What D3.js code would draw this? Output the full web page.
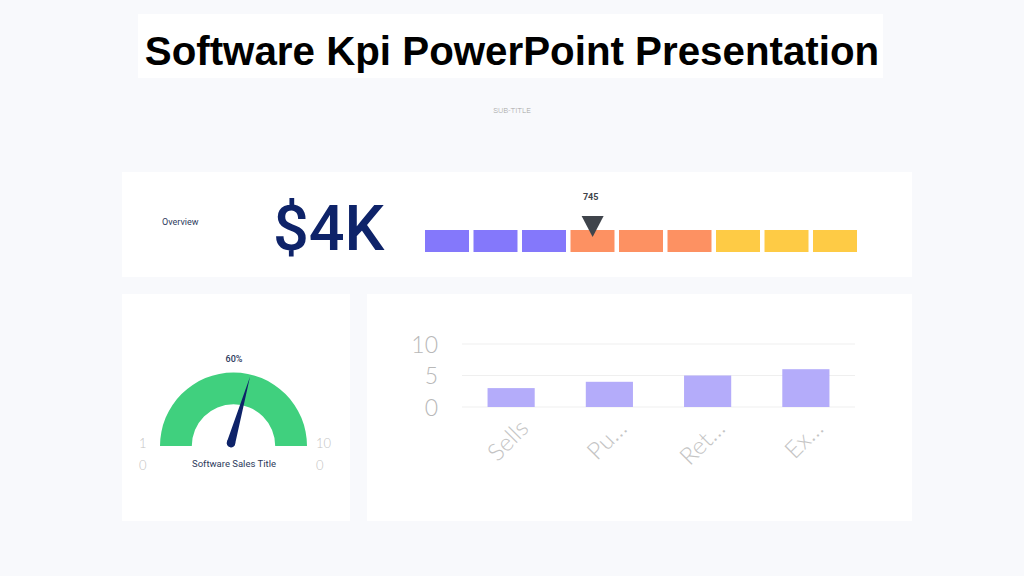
<!DOCTYPE html>
<html><head><meta charset="utf-8">
<script src="https://cdn.jsdelivr.net/npm/d3@7"></script>
<style>
html,body{margin:0;padding:0;background:#f8f9fc;}
svg{display:block;}
</style></head>
<body>
<svg id="c" width="1024" height="576"></svg>
<script>
// ---- data ----
const titleText = "Software Kpi PowerPoint Presentation";
const subtitleText = "SUB-TITLE";
const overviewLabel = "Overview";
const kpiValue = "$4K";
const segmentColors = ["#8478fb","#8478fb","#8478fb","#fd9162","#fd9162","#fd9162","#fecb45","#fecb45","#fecb45"];
const markerValue = 745;
const markerDomain = [0, 1920];      // scale of the 9-segment bar
const gaugeValue = 60;               // percent
const gaugeMinLabel = ["1","0"];     // "10" wrapped
const gaugeMaxLabel = ["10","0"];    // "100" wrapped
const gaugeTitle = "Software Sales Title";
const barCategories = ["Sells","Pu…","Ret…","Ex…"];
const barValues = [3, 4, 5, 6];
const barTicks = [0, 5, 10];

const svg = d3.select("#c");

// title
svg.append("rect").attr("x",138).attr("y",14).attr("width",745).attr("height",64).attr("fill","#ffffff");
svg.append("text").attr("x",512).attr("y",65).attr("text-anchor","middle")
  .attr("font-family","Liberation Sans, Arial, sans-serif").attr("font-weight","bold")
  .attr("font-size",40.3).attr("fill","#000").text(titleText);
svg.append("text").attr("x",512).attr("y",113).attr("text-anchor","middle")
  .attr("font-family","Roboto, sans-serif").attr("font-weight",300).attr("font-size",8).attr("fill","#a5a5a5").text(subtitleText);

// cards
const cards = [[122,172,790,105],[122,294,228,227],[367,294,545,227]];
svg.selectAll("rect.card").data(cards).join("rect").attr("class","card")
  .attr("x",d=>d[0]).attr("y",d=>d[1]).attr("width",d=>d[2]).attr("height",d=>d[3]).attr("fill","#ffffff");

// overview card
svg.append("text").attr("x",162).attr("y",225).attr("font-family","Roboto, sans-serif")
  .attr("font-size",9).attr("fill","#2d3a5c").text(overviewLabel);
svg.append("text").attr("x",273).attr("y",250).attr("font-family","Roboto, sans-serif")
  .attr("font-weight",500).attr("font-size",63).attr("fill","#0e2369").text(kpiValue);

const segX = d3.scaleBand().domain(d3.range(segmentColors.length)).range([425,857]).paddingInner(0.093).paddingOuter(0);
svg.selectAll("rect.seg").data(segmentColors).join("rect").attr("class","seg")
  .attr("x",(d,i)=>segX(i)).attr("y",230).attr("width",segX.bandwidth()).attr("height",22).attr("fill",d=>d);

const mScale = d3.scaleLinear().domain(markerDomain).range([425,857]);
const mx = mScale(markerValue);
svg.append("path").attr("d",`M${mx-11},216 L${mx+11},216 L${mx},237 Z`).attr("fill","#3f444b");
svg.append("text").attr("x",mx-2).attr("y",200).attr("text-anchor","middle")
  .attr("font-family","Roboto, sans-serif").attr("font-weight",700).attr("font-size",9).attr("fill","#3f444b").text(markerValue);

// gauge
const gcx = 233.5, gcy = 446, rO = 73.5, rI = 41.7;
const gArc = d3.arc().innerRadius(rI).outerRadius(rO).startAngle(-Math.PI/2).endAngle(Math.PI/2);
svg.append("path").attr("transform",`translate(${gcx},${gcy})`).attr("d",gArc()).attr("fill","#40d07e");
const gScale = d3.scaleLinear().domain([0,100]).range([-90,90]);
const px = 231, py = 443, nl = 69;
svg.append("g").attr("transform",`translate(${px},${py}) rotate(${gScale(gaugeValue)-2})`)
  .call(g=>{
    g.append("path").attr("d",`M-4.2,0 L0,${-nl} L4.2,0 A4.2,4.2 0 0 1 -4.2,0 Z`).attr("fill","#0e2369");
    g.append("circle").attr("r",4.2).attr("fill","#0e2369");
  });
svg.append("text").attr("x",234).attr("y",362).attr("text-anchor","middle")
  .attr("font-family","Roboto, sans-serif").attr("font-weight",500).attr("font-size",9).attr("fill","#2d3a5c").text(gaugeValue+"%");
svg.append("text").attr("x",234).attr("y",467).attr("text-anchor","middle")
  .attr("font-family","Roboto, sans-serif").attr("font-size",9.5).attr("fill","#2d3a5c").text(gaugeTitle);
function wrapLabel(x, lines){
  const t = svg.append("text").attr("font-family","Lato, sans-serif").attr("font-weight",300)
    .attr("font-size",13).attr("fill","#c4c4c4");
  lines.forEach((s,i)=>t.append("tspan").attr("x",x).attr("y",448+i*22).text(s));
}
wrapLabel(139, gaugeMinLabel);
wrapLabel(316, gaugeMaxLabel);

// bar chart
const x = d3.scaleBand().domain(barCategories).range([462,855]).paddingInner(0.52).paddingOuter(0.26);
const y = d3.scaleLinear().domain([0,10]).range([407,344]);
const grid = svg.append("g");
grid.selectAll("line").data(barTicks).join("line")
  .attr("x1",462).attr("x2",855).attr("y1",d=>y(d)).attr("y2",d=>y(d))
  .attr("stroke","#efefef").attr("stroke-width",1);
svg.selectAll("rect.bar").data(barValues).join("rect").attr("class","bar")
  .attr("x",(d,i)=>x(barCategories[i])).attr("y",d=>y(d)).attr("width",x.bandwidth())
  .attr("height",d=>y(0)-y(d)).attr("fill","#b4acfa");
const yAxis = svg.append("g").attr("transform","translate(438,0)")
  .call(d3.axisLeft(y).tickValues(barTicks).tickSize(0).tickPadding(0));
yAxis.select(".domain").remove();
yAxis.selectAll("text").attr("font-family","Lato, sans-serif").attr("font-weight",300)
  .attr("font-size",23).attr("fill","#b8b8b8").attr("text-anchor","end").attr("dy","0.36em");
const xAxis = svg.append("g").attr("transform","translate(0,416)")
  .call(d3.axisBottom(x).tickSize(0).tickPadding(0));
xAxis.select(".domain").remove();
xAxis.selectAll("text").attr("font-family","Lato, sans-serif").attr("font-weight",300)
  .attr("font-size",24).attr("fill","#c4c4c4").attr("text-anchor","end")
  .attr("dy","0.7em").attr("transform","translate(7,2) rotate(-45)");
</script>
</body></html>
